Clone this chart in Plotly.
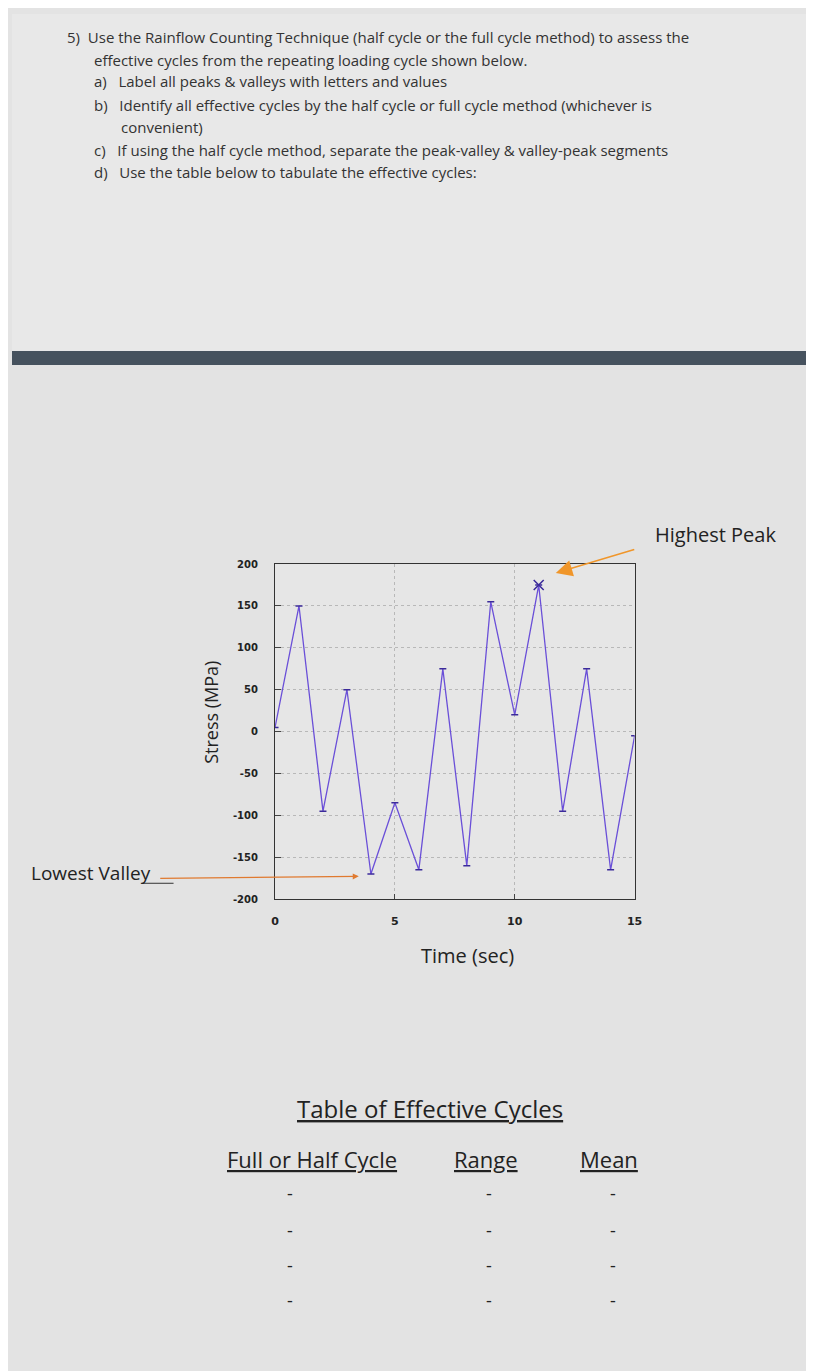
import plotly.graph_objects as go

W, H = 806, 1363
OFF = 8  # browser body margin

time_s = list(range(16))
stress = [5, 150, -95, 50, -170, -85, -165, 75, -160, 155, 20, 175, -95, 75, -165, -5]
y_ticks = [200, 150, 100, 50, 0, -50, -100, -150, -200]
x_ticks = [0, 5, 10, 15]

question = [
    (62, 31, "5)  Use the Rainflow Counting Technique (half cycle or the full cycle method) to assess the"),
    (89, 54, "effective cycles from the repeating loading cycle shown below."),
    (89, 76, "a)   Label all peaks & valleys with letters and values"),
    (89, 100, "b)   Identify all effective cycles by the half cycle or full cycle method (whichever is"),
    (117, 122, "convenient)"),
    (89, 145, "c)   If using the half cycle method, separate the peak-valley & valley-peak segments"),
    (89, 167, "d)   Use the table below to tabulate the effective cycles:"),
]
table_cols = [(290, 313, "Full or Half Cycle"), (492, 489, "Range"), (618, 614, "Mean")]
row_y = [1197, 1235, 1270, 1305]


def px(x):
    return (x - OFF) / W


def py(y):
    return 1 - (y - OFF) / H


fig = go.Figure()
fig.add_trace(go.Scatter(
    x=time_s, y=stress, mode="lines+markers",
    line=dict(color="#6a4fd8", width=1.3),
    marker=dict(symbol="line-ew", size=5, line=dict(color="#3b2a9a", width=1.5)),
    hoverinfo="skip",
))
# highest peak marker
imax = stress.index(max(stress))
fig.add_trace(go.Scatter(
    x=[time_s[imax]], y=[stress[imax]], mode="markers",
    marker=dict(symbol="x-thin", size=10, line=dict(color="#3b2a9a", width=1.5)),
    hoverinfo="skip",
))


def label(x, y, t, size, **kw):
    d = dict(x=px(x), y=py(y), xref="paper", yref="paper", text=t, showarrow=False,
             xanchor="center", yanchor="middle", font=dict(size=size, color="#222"))
    d.update(kw)
    return d


ann = []
for x, y, t in question:
    ann.append(label(x, y, t, 15, xanchor="left", font=dict(size=15, color="#333")))
ann += [
    label(722, 533, "Highest Peak", 20),
    label(88, 875, "Lowest Valley", 19),
    label(210, 712, "Stress (MPa)", 18, textangle=-90),
    label(470, 958, "Time (sec)", 20),
    label(432, 1112, "<u>Table of Effective Cycles</u>", 24),
    # arrows (tail offsets in pixels)
    dict(x=px(560), y=py(572), ax=80, ay=-24, xref="paper", yref="paper",
         text="", showarrow=True, arrowhead=2, arrowsize=2.2,
         arrowwidth=1.5, arrowcolor="#f0962a"),
    dict(x=px(360), y=py(878), ax=-200, ay=2, xref="paper", yref="paper",
         text="", showarrow=True, arrowhead=2, arrowsize=1,
         arrowwidth=1.2, arrowcolor="#e07a30"),
]
for dx, hx, t in table_cols:
    ann.append(label(hx, 1163, "<u>" + t + "</u>", 22))
    for ry in row_y:
        ann.append(label(dx, ry, "-", 18))

fig.update_layout(
    width=W, height=H, margin=dict(l=0, r=0, t=0, b=0),
    paper_bgcolor="#e3e3e3", plot_bgcolor="#e6e6e6", showlegend=False,
    font=dict(family="Open Sans"),
    annotations=ann,
    shapes=[
        dict(type="rect", xref="paper", yref="paper", x0=0, x1=1, y0=py(362), y1=py(348),
             fillcolor="#46525e", line_width=0, layer="below"),
        dict(type="rect", xref="paper", yref="paper", x0=0, x1=1, y0=py(348), y1=1,
             fillcolor="#e8e8e8", line_width=0, layer="below"),
        dict(type="line", xref="paper", yref="paper", x0=px(140), x1=px(172), y0=py(885), y1=py(885),
             line=dict(color="#333", width=1)),
    ],
    xaxis=dict(domain=[px(275), px(640)], range=[0, 15], tickvals=x_ticks,
               ticktext=["<b>%d</b>" % v for v in x_ticks], showgrid=True,
               gridcolor="#b8b8b8", griddash="dot", zeroline=False, showline=True, mirror=True,
               linecolor="#333", linewidth=1.2, ticks="inside", ticklen=5, ticklabelstandoff=12,
               tickfont=dict(size=11, color="#222", family="DejaVu Sans")),
    yaxis=dict(domain=[py(901), py(563)], range=[-200, 200], tickvals=y_ticks,
               ticktext=["<b>%d</b>" % v for v in y_ticks], showgrid=True,
               gridcolor="#b8b8b8", griddash="dot", zeroline=False, showline=True, mirror=True,
               linecolor="#333", linewidth=1.2, ticks="inside", ticklen=6, ticklabelstandoff=14,
               tickfont=dict(size=10, color="#222", family="DejaVu Sans")),
)

fig.write_html("out.html")
